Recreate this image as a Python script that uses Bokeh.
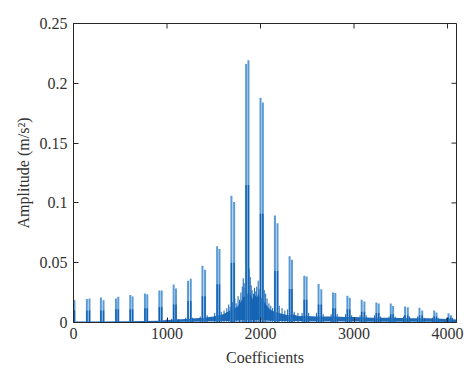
import math
from bokeh.plotting import figure
from bokeh.models import FixedTicker, Range1d
from bokeh.embed import file_html
from bokeh.resources import INLINE

# ---- data ----
peak_x1 = [3, 143, 293, 454, 607, 764, 918, 1071, 1225, 1379, 1536, 1689, 1846, 2000,
           2154, 2311, 2468, 2621, 2775, 2929, 3082, 3239, 3393, 3546, 3700, 3857, 4011]
peak_x2 = [10, 171, 321, 479, 632, 789, 943, 1096, 1254, 1407, 1561, 1718, 1871, 2025,
           2182, 2336, 2493, 2650, 2800, 2954, 3111, 3264, 3418, 3575, 3729, 3882, 4036]
peak_h1 = [0.019, 0.0196, 0.021, 0.020, 0.0229, 0.0243, 0.0268, 0.0318, 0.0349, 0.0475,
           0.0637, 0.1059, 0.2162, 0.188, 0.0894, 0.0553, 0.0391, 0.0321, 0.0251, 0.0223,
           0.019, 0.0168, 0.0159, 0.0134, 0.0123, 0.0101, 0.0078]
peak_h2 = [0.0185, 0.0201, 0.0187, 0.0215, 0.0218, 0.0237, 0.0268, 0.0285, 0.0366, 0.0441,
           0.0615, 0.1008, 0.2193, 0.184, 0.083, 0.0525, 0.0385, 0.0279, 0.0246, 0.0207,
           0.0176, 0.0159, 0.0137, 0.0128, 0.0101, 0.0084, 0.0061]
peak_inner = [0.010, 0.010, 0.010, 0.011, 0.011, 0.012, 0.013, 0.015, 0.018, 0.022,
              0.032, 0.050, 0.115, 0.091, 0.043, 0.028, 0.019, 0.015, 0.012, 0.011,
              0.009, 0.008, 0.007, 0.006, 0.006, 0.005, 0.004]

noise_x = [0, 300, 600, 900, 1000, 1100, 1200, 1300, 1400, 1450, 1500, 1550, 1600, 1650,
           1700, 1750, 1780, 1800, 1820, 1840, 1860, 1880, 1900, 1920, 1940, 1960, 1980,
           2000, 2020, 2040, 2060, 2080, 2100, 2150, 2200, 2250, 2300, 2350, 2400, 2500,
           2600, 2700, 2800, 2900, 3000, 3200, 3400, 3600, 3800, 4000, 4096]
noise_hi = [0.0008, 0.0008, 0.001, 0.0015, 0.002, 0.0025, 0.003, 0.0035, 0.004, 0.0045,
            0.005, 0.006, 0.007, 0.009, 0.011, 0.013, 0.016, 0.019, 0.022, 0.021, 0.024,
            0.025, 0.022, 0.019, 0.023, 0.021, 0.024, 0.020, 0.021, 0.017, 0.015, 0.013,
            0.011, 0.009, 0.008, 0.007, 0.006, 0.007, 0.0055, 0.0055, 0.005, 0.005, 0.005,
            0.0045, 0.0045, 0.004, 0.004, 0.0035, 0.0035, 0.003, 0.0025]
noise_lo = [0.0, 0.0, 0.0, 0.0003, 0.0004, 0.0005, 0.0006, 0.0007, 0.0008, 0.0008,
            0.0009, 0.001, 0.001, 0.0012, 0.0014, 0.0016, 0.0018, 0.002, 0.002, 0.002,
            0.002, 0.002, 0.002, 0.002, 0.002, 0.002, 0.002, 0.002, 0.002, 0.002, 0.0018,
            0.0016, 0.0015, 0.0013, 0.0012, 0.0011, 0.001, 0.001, 0.001, 0.0009, 0.0009,
            0.0008, 0.0008, 0.0008, 0.0008, 0.0007, 0.0007, 0.0006, 0.0006, 0.0005, 0.0005]

fuzz_x = [1000, 1050, 1120, 1200, 1275, 1355, 1430, 1510, 1580, 1610, 1640, 1660, 1675,
          1700, 1725, 1740, 1760, 1775, 1790, 1805, 1815, 1825, 1835, 1880, 1890, 1900,
          1910, 1925, 1935, 1950, 1960, 1975, 1985, 2040, 2055, 2070, 2090, 2110, 2130,
          2200, 2230, 2260, 2290, 2360, 2400, 2445, 2515, 2600, 2670, 2755, 2820, 2910,
          2975, 3065, 3130, 3220, 3285, 3375, 3440, 3530, 3595, 3680, 3750, 3840, 3900,
          3990, 4055]
fuzz_h = [0.003, 0.003, 0.003, 0.004, 0.004, 0.005, 0.006, 0.008, 0.009, 0.010, 0.012,
          0.015, 0.013, 0.017, 0.020, 0.016, 0.022, 0.019, 0.025, 0.030, 0.037, 0.033,
          0.029, 0.045, 0.038, 0.031, 0.027, 0.024, 0.029, 0.026, 0.030, 0.035, 0.028,
          0.027, 0.024, 0.020, 0.016, 0.014, 0.012, 0.014, 0.012, 0.010, 0.011, 0.009,
          0.008, 0.008, 0.008, 0.008, 0.007, 0.007, 0.007, 0.007, 0.006, 0.006, 0.006,
          0.006, 0.005, 0.005, 0.005, 0.005, 0.005, 0.005, 0.004, 0.004, 0.004, 0.004,
          0.004]

x_ticks = [0, 1000, 2000, 3000, 4000]
y_ticks = [0, 0.05, 0.1, 0.15, 0.2, 0.25]
y_tick_labels = ["0", "0.05", "0.1", "0.15", "0.2", "0.25"]

X_MAX = 4096
Y_MAX = 0.25

LIGHT = "#5b9bd5"
DARK = "#1463b4"
FONT = "Liberation Serif"
TXT = "#333333"
AX = "#262626"

p = figure(width=466, height=372, output_backend="svg", toolbar_location=None,
           x_range=Range1d(0, X_MAX), y_range=Range1d(0, Y_MAX),
           min_border_left=73, min_border_right=10, min_border_top=23, min_border_bottom=50)

p.varea(x=noise_x, y1=noise_lo, y2=noise_hi, fill_color=DARK, fill_alpha=0.95)
p.segment(x0=fuzz_x, y0=[0] * len(fuzz_x), x1=fuzz_x, y1=fuzz_h, line_color=DARK, line_width=1)
p.segment(x0=peak_x1, y0=[0] * len(peak_x1), x1=peak_x1, y1=peak_h1, line_color=LIGHT, line_width=2)
p.segment(x0=peak_x2, y0=[0] * len(peak_x2), x1=peak_x2, y1=peak_h2, line_color=LIGHT, line_width=2)
p.segment(x0=peak_x1, y0=[0] * len(peak_x1), x1=peak_x1, y1=peak_inner, line_color=DARK, line_width=1.5)
p.segment(x0=peak_x2, y0=[0] * len(peak_x2), x1=peak_x2, y1=peak_inner, line_color=DARK, line_width=1.5)

# inward ticks on the top and right frame edges (clipped to the frame)
p.scatter(x=x_ticks, y=[Y_MAX] * len(x_ticks), marker="dash", size=10, angle=math.pi / 2,
          line_color=AX, line_width=1)
p.scatter(x=[X_MAX] * len(y_ticks), y=y_ticks, marker="dash", size=10,
          line_color=AX, line_width=1)

p.grid.visible = False
p.outline_line_color = AX
p.outline_line_width = 1
p.background_fill_color = "white"
p.border_fill_color = "white"

for ax in (p.xaxis[0], p.yaxis[0]):
    ax.major_tick_in = 5
    ax.major_tick_out = 0
    ax.minor_tick_in = 0
    ax.minor_tick_out = 0
    ax.axis_line_color = AX
    ax.major_tick_line_color = AX
    ax.major_label_text_font = FONT
    ax.major_label_text_font_size = "16px"
    ax.major_label_text_color = TXT
    ax.axis_label_text_font = FONT
    ax.axis_label_text_font_size = "16px"
    ax.axis_label_text_font_style = "normal"
    ax.axis_label_text_color = TXT

p.xaxis[0].ticker = FixedTicker(ticks=x_ticks)
p.yaxis[0].ticker = FixedTicker(ticks=y_ticks)
p.yaxis[0].major_label_overrides = {t: l for t, l in zip(y_ticks, y_tick_labels)}
p.xaxis[0].major_label_overrides = {t: str(t) for t in x_ticks}
p.xaxis[0].axis_label = "Coefficients"
p.yaxis[0].axis_label = "Amplitude (m/s²)"
p.xaxis[0].major_label_standoff = 5
p.yaxis[0].major_label_standoff = 6
p.xaxis[0].axis_label_standoff = 7
p.yaxis[0].axis_label_standoff = 5

open("out.html", "w").write(file_html(p, INLINE))
